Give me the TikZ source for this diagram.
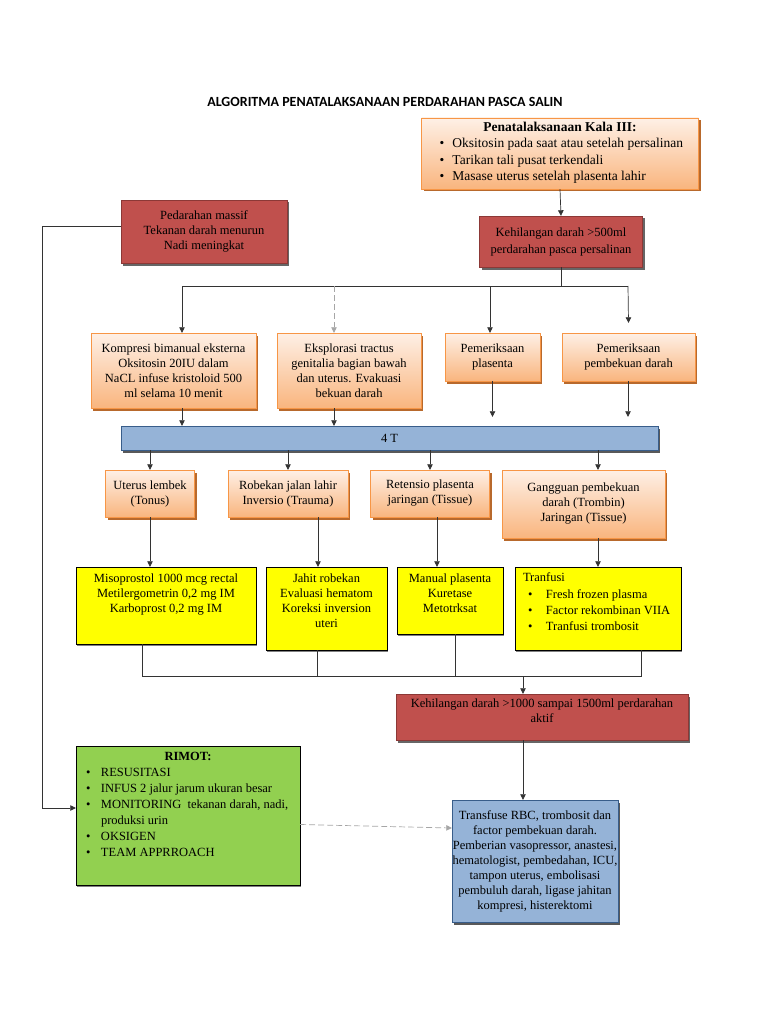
\documentclass[tikz,border=0pt]{standalone}
\usepackage{fontspec}
\setmainfont{Liberation Serif}
\newfontfamily\titlefont{Carlito}
\usetikzlibrary{arrows.meta,shadows}
\definecolor{orgtop}{HTML}{FEF0E6}
\definecolor{orgbot}{HTML}{F9B57E}
\definecolor{orgline}{HTML}{F79646}
\definecolor{orgshd}{HTML}{B8692C}
\definecolor{redfill}{HTML}{C0504D}
\definecolor{redline}{HTML}{8C3836}
\definecolor{bluefill}{HTML}{95B3D7}
\definecolor{blueline}{HTML}{385D8A}
\definecolor{yelfill}{HTML}{FFFF00}
\definecolor{grnfill}{HTML}{92D050}
\newcommand{\butir}[1]{\makebox[#1][l]{\textbullet}}
\tikzset{
    ttl/.style={
           font=\titlefont\bfseries\fontsize{14}{16}\selectfont
           },
    peach/.style={
           draw=orgline, thin,
           top color=orgtop, bottom color=orgbot,
           drop shadow={shadow xshift=2pt, shadow yshift=-2.5pt, fill=orgshd, opacity=1},
           align=center, inner sep=0pt
           },
    redbox/.style={
           draw=redline, thin, fill=redfill,
           drop shadow={shadow xshift=2pt, shadow yshift=-2.5pt, fill=black!60, opacity=1},
           align=center, inner sep=0pt
           },
    bluebox/.style={
           draw=blueline, thin, fill=bluefill,
           drop shadow={shadow xshift=2pt, shadow yshift=-2.5pt, fill=black!65, opacity=1},
           align=center, inner sep=0pt
           },
    yelbox/.style={
           draw=black, thin, fill=yelfill,
           drop shadow={shadow xshift=1pt, shadow yshift=-1.5pt, fill=black!50, opacity=1},
           align=center, inner sep=0pt
           },
    grnbox/.style={
           draw=black, thin, fill=grnfill,
           drop shadow={shadow xshift=1pt, shadow yshift=-1.5pt, fill=black!50, opacity=1},
           inner sep=0pt
           },
    link/.style={
           draw=black!80, line width=0.7pt
           },
    faint/.style={
           draw=black!35, line width=0.7pt, dash pattern=on 6pt off 3pt
           },
    tip/.style={
           -{Triangle[width=5.5pt,length=5.5pt]}
           },
    panah/.style={
           every edge/.style={link, tip}
           },
    garis/.style={
           every edge/.style={link}
           },
    samar/.style={
           every edge/.style={faint, tip}
           }
}
\begin{document}
\begin{tikzpicture}[x=1pt,y=-1pt,font=\fontsize{12.5}{15}\selectfont]
   \useasboundingbox[fill=white] (0,0) rectangle (768,1024);
   \node[ttl] (judul) at (385,102) {ALGORITMA PENATALAKSANAAN PERDARAHAN PASCA SALIN};
   % baris atas
   \node[peach] (kala) at (560,153.5) {\parbox[c][71pt][t]{277pt}{\fontsize{13.5}{16.5}\selectfont
      \vspace*{4pt}\centering
      \textbf{Penatalaksanaan Kala III:}\par\raggedright\leftskip=18pt
      \butir{13pt}Oksitosin pada saat atau setelah persalinan\par
      \butir{13pt}Tarikan tali pusat terkendali\par
      \butir{13pt}Masase uterus setelah plasenta lahir\par}};
   \node[redbox, minimum width=166pt, minimum height=63pt] (pedar) at (204,231.5)
      {Pedarahan massif\\Tekanan darah menurun\\Nadi meningkat};
   \node[redbox, minimum width=163pt, minimum height=51pt] (k500) at (561,241.5)
      {Kehilangan darah >500ml\\[2pt]perdarahan pasca persalinan};
   \coordinate (pisah) at (561,286);
   \coordinate (ka) at (182,286);
   \coordinate (kb) at (334,286);
   \coordinate (kc) at (490,286);
   \coordinate (kd) at (628,286);
   % tindakan awal
   \node[peach, minimum width=165pt, minimum height=75pt] (komp) at (173.5,370.5)
      {Kompresi bimanual eksterna\\Oksitosin 20IU dalam\\NaCL infuse kristoloid 500\\ml selama 10 menit};
   \node[peach, minimum width=144pt, minimum height=75pt] (eksp) at (349,370.5)
      {Eksplorasi tractus\\genitalia bagian bawah\\dan uterus. Evakuasi\\bekuan darah};
   \node[peach, minimum width=95pt, minimum height=48pt] (plas) at (492.5,357)
      {Pemeriksaan\\plasenta};
   \node[peach, minimum width=133pt, minimum height=48pt] (bekd) at (628.5,357)
      {Pemeriksaan\\pembekuan darah};
   \node[bluebox, minimum width=537pt, minimum height=24pt] (bar) at (389.5,438) {4 T};
   % penyebab
   \node[peach, minimum width=89pt, minimum height=47pt] (tonus) at (150,493.5)
      {Uterus lembek\\(Tonus)};
   \node[peach, minimum width=120pt, minimum height=47pt] (trauma) at (288,493.5)
      {Robekan jalan lahir\\Inversio (Trauma)};
   \node[peach, minimum width=119pt, minimum height=47pt] (tissue) at (430,493.5)
      {Retensio plasenta\\jaringan (Tissue)};
   \node[peach, minimum width=163pt, minimum height=68pt] (trombin) at (583.5,504)
      {Gangguan pembekuan\\darah (Trombin)\\Jaringan (Tissue)};
   % penanganan
   \node[yelbox] (miso) at (166,605.5) {\parbox[c][77pt][t]{180pt}{\vspace*{7pt}\centering
      Misoprostol 1000 mcg rectal\\Metilergometrin 0,2 mg IM\\Karboprost 0,2 mg IM}};
   \node[yelbox] (jahit) at (326.5,608.5) {\parbox[c][83pt][t]{121pt}{\vspace*{7pt}\centering
      Jahit robekan\\Evaluasi hematom\\Koreksi inversion\\uteri}};
   \node[yelbox] (manual) at (450,600.5) {\parbox[c][67pt][t]{106pt}{\vspace*{7pt}\centering
      Manual plasenta\\Kuretase\\Metotrksat}};
   \node[yelbox] (tranf) at (598,608.5) {\parbox[c][83pt][t]{166pt}{\fontsize{12.5}{16.3}\selectfont
      \vspace*{6pt}\raggedright
      \leftskip=8pt Tranfusi\par\leftskip=13pt
      \butir{18pt}Fresh frozen plasma\par
      \butir{18pt}Factor rekombinan VIIA\par
      \butir{18pt}Tranfusi trombosit\par}};
   \coordinate (kol2) at (318,0);
   \coordinate (kol3) at (437,0);
   \coordinate (g1) at (142,676);
   \coordinate (g2) at (317,676);
   \coordinate (g3) at (455,676);
   \coordinate (g4) at (641,676);
   \coordinate (gk) at (523,676);
   % bawah
   \node[redbox] (k1000) at (542,717) {\parbox[c][46pt][t]{292pt}{\vspace*{5pt}\centering
      Kehilangan darah >1000 sampai 1500ml perdarahan\\aktif}};
   \node[bluebox, minimum width=166pt, minimum height=122pt] (terapi) at (535,861)
      {Transfuse RBC, trombosit dan\\factor pembekuan darah.\\Pemberian vasopressor, anastesi,\\hematologist, pembedahan, ICU,\\tampon uterus, embolisasi\\pembuluh darah, ligase jahitan\\kompresi, histerektomi};
   \node[grnbox] (rimot) at (188,815.5) {\parbox[c][139pt][t]{224pt}{\fontsize{12.5}{16}\selectfont
      \vspace*{6pt}\centering
      \textbf{RIMOT:}\par\raggedright\leftskip=10pt
      \butir{15pt}RESUSITASI\par
      \butir{15pt}INFUS 2 jalur jarum ukuran besar\par
      \butir{15pt}MONITORING\ \ tekanan darah, nadi,\par
      \hspace*{15pt}produksi urin\par
      \butir{15pt}OKSIGEN\par
      \butir{15pt}TEAM APPRROACH\par}};
   \coordinate (kiri) at (42,808);
   % konektor
   \path[garis]
    (k500.south) edge (pisah)
    (ka) edge (kd);
   \path[panah]
    (kala.south) edge (k500.north)
    (ka) edge (komp.north -| ka)
    (kc) edge (plas.north -| kc)
    (kd) edge ([yshift=10pt]bekd.north)
    (komp.south -| ka) edge (bar.north -| ka)
    (eksp.south -| kb) edge (bar.north -| kb)
    (plas.south) edge ([yshift=9pt]plas.south |- bar.north)
    (bekd.south -| kd) edge ([yshift=9pt]bar.north -| kd)
    (bar.south -| tonus) edge (tonus.north)
    (bar.south -| trauma) edge (trauma.north)
    (bar.south -| tissue) edge (tissue.north)
    (bar.south -| tranf) edge (trombin.north -| tranf)
    (tonus.south) edge (miso.north -| tonus)
    (trauma.south -| kol2) edge (jahit.north -| kol2)
    (tissue.south -| kol3) edge (manual.north -| kol3)
    (trombin.south -| tranf) edge (tranf.north)
    (gk) edge (k1000.north -| gk)
    (k1000.south -| gk) edge (terapi.north -| gk);
   \draw[link, tip] ([yshift=5pt]pedar.west) -| (kiri) -- (kiri -| rimot.west);
   \path[samar]
    (kb) edge (eksp.north -| kb)
    ([yshift=-9pt]rimot.east) edge ([yshift=33pt]terapi.west);
   \draw[link] (miso.south -| g1) -- (g1) -- (g4) -- (tranf.south -| g4);
   \path[garis]
    (jahit.south -| g2) edge (g2)
    (manual.south -| g3) edge (g3);
\end{tikzpicture}
\end{document}
